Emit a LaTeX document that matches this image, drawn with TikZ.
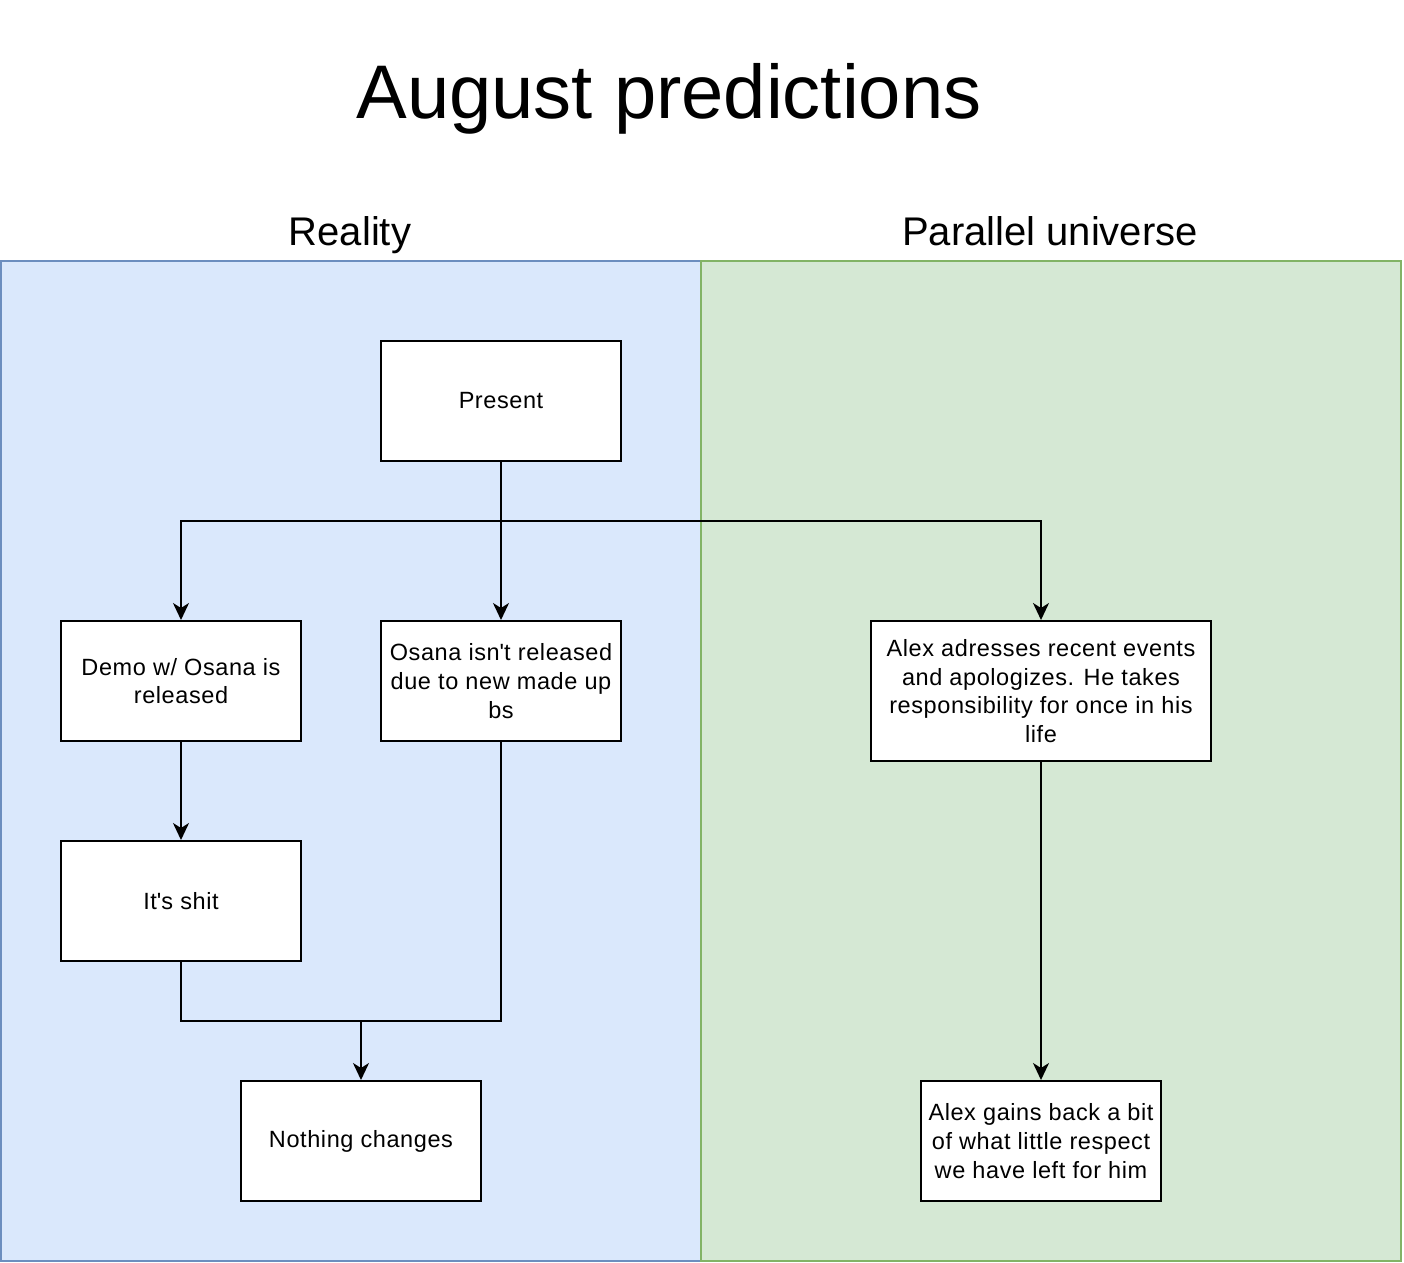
\documentclass[tikz,border=0pt]{standalone}
\usepackage{fontspec}
\setmainfont{Liberation Sans}
\usetikzlibrary{arrows.meta}
\definecolor{bluefill}{HTML}{DAE8FC}
\definecolor{blueline}{HTML}{6C8EBF}
\definecolor{greenfill}{HTML}{D5E8D4}
\definecolor{greenline}{HTML}{82B366}
\newcommand{\boxfont}{\fontsize{23.5}{28.8}\selectfont\addfontfeatures{LetterSpace=2.5}}
\begin{document}
\begin{tikzpicture}[x=1pt,y=-1pt,
  stepbox/.style={draw=black,fill=white,line width=2pt,minimum width=240pt,minimum height=120pt,inner sep=0pt,align=center,font=\boxfont},
  conn/.style={line width=2pt,-{Stealth[length=17pt,width=16pt,inset=5pt]}},
  plain/.style={line width=2pt}]
\useasboundingbox (0,0) rectangle (1404,1262);
\fill[white] (0,0) rectangle (1404,1262);
\draw[fill=bluefill,draw=blueline,line width=2pt] (1,261) rectangle (701,1261);
\draw[fill=greenfill,draw=greenline,line width=2pt] (701,261) rectangle (1401,1261);
\node[anchor=base] (title) at (669,118) {\fontsize{76}{90}\selectfont August predictions};
\node[anchor=base] (reality) at (350,245) {\fontsize{40}{48}\selectfont Reality};
\node[anchor=base] (parallel) at (1050,245) {\fontsize{40}{48}\selectfont Parallel universe};
\node[stepbox] (present) at (501,401) {Present};
\node[stepbox] (demo) at (181,681) {Demo w/ Osana is\\released};
\node[stepbox] (osana) at (501,681) {Osana isn\textquotesingle t released\\due to new made up\\bs};
\node[stepbox,minimum width=340pt,minimum height=140pt] (alex) at (1041,691) {Alex adresses recent events\\and apologizes. He takes\\responsibility for once in his\\life};
\node[stepbox] (shit) at (181,901) {It\textquotesingle s shit};
\node[stepbox] (nothing) at (361,1141) {Nothing changes};
\node[stepbox] (gains) at (1041,1141) {Alex gains back a bit\\of what little respect\\we have left for him};
\coordinate (split) at (501,521);
\coordinate (join) at (361,1021);
\draw[conn] (present.south) -- (split) -| (demo.north);
\draw[conn] (split) -- (osana.north);
\draw[conn] (split) -| (alex.north);
\draw[conn] (demo) -- (shit);
\draw[plain] (shit.south) |- (join);
\draw[plain] (osana.south) |- (join);
\draw[conn] (join) -- (nothing.north);
\draw[conn] (alex) -- (gains);
\end{tikzpicture}
\end{document}
